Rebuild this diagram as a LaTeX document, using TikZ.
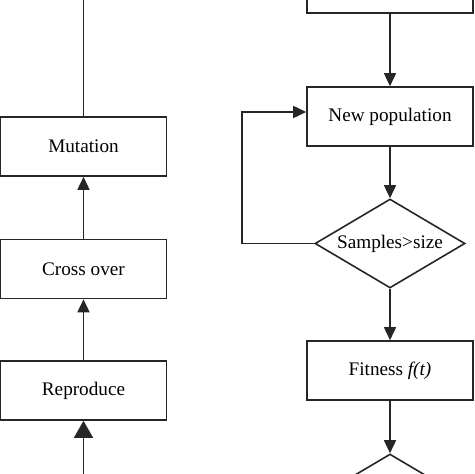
\documentclass[tikz,border=0pt]{standalone}
\usepackage{fontspec}
\setmainfont{Liberation Serif}
\usetikzlibrary{shapes.geometric,arrows.meta}

\begin{document}
\begin{tikzpicture}
	[x=0.5pt,y=-0.5pt,
	 box/.style={font=\fontsize{9.6pt}{11pt}\selectfont,rectangle,draw=black!85,line width=0.8pt,minimum width=83pt,minimum height=29.5pt,inner sep=0pt},
	 test/.style={font=\fontsize{9.6pt}{11pt}\selectfont,diamond,aspect=1.7,draw=black!85,line width=0.8pt,minimum width=75pt,minimum height=44.5pt,inner sep=0pt},
	 flow/.style={line width=0.8pt,draw=black!85,-{Triangle[width=6pt,length=6.5pt]}},
	 bigflow/.style={line width=0.8pt,draw=black!85,-{Triangle[width=9.5pt,length=8.5pt]}}]

	\useasboundingbox (0,0) rectangle (474,474);
	\clip (0,0) rectangle (474,474);

	% left column
	\node[box] (mut) at (83.5,146.5) {Mutation};

	\node[box] (cross) at (83.5,269) {Cross over};

	\node[box] (repr) at (83.5,390.5) {Reproduce};

	\coordinate (up) at (83.5,-10);
	\coordinate (in) at (83.5,484);

	% right column
	\node[box] (prev) at (390,-16.5) {};

	\node[box] (newpop) at (390,116.5) {New population};

	\node[test] (samp) at (390,243.5) {Samples>size};

	\node[box] (fit) at (390,370.5) {Fitness \textit{f(t)}};

	\node[test] (next) at (390,498.5) {};

	% connectors
	\draw[line width=0.8pt,draw=black!85] (mut) -- (up);
	\draw[flow] (cross) -- (mut);
	\draw[flow] (repr) -- (cross);
	\draw[bigflow] (in) -- (repr);

	\draw[flow] (prev) -- (newpop);
	\draw[flow] (newpop) -- (samp);
	\draw[flow] (samp) -- (fit);
	\draw[flow] (fit) -- (next);
	\draw[flow] (samp.west) -- ++(-72,0) |- ([yshift=2.25pt]newpop.west);

\end{tikzpicture}
\end{document}
